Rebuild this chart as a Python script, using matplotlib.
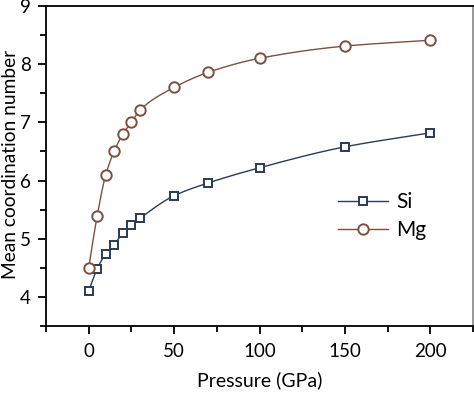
import numpy as np
import matplotlib.pyplot as plt
from matplotlib.ticker import MultipleLocator

# Data
pressure = [0, 5, 10, 15, 20, 25, 30, 50, 70, 100, 150, 200]
si_cn = [4.10, 4.49, 4.74, 4.90, 5.10, 5.23, 5.35, 5.74, 5.96, 6.22, 6.58, 6.82]
mg_cn = [4.50, 5.40, 6.10, 6.51, 6.80, 7.00, 7.21, 7.60, 7.86, 8.10, 8.31, 8.41]

si_color = '#2b3a55'
mg_color = '#7b5040'


def pchip(x, y, xs):
    """Monotone cubic curve through the points (for the connecting line only)"""
    x = np.asarray(x, float)
    y = np.asarray(y, float)
    h = np.diff(x)
    d = np.diff(y) / h
    m = np.zeros_like(y)
    for k in range(1, len(x) - 1):
        if d[k - 1] * d[k] > 0:
            w1 = 2 * h[k] + h[k - 1]
            w2 = h[k] + 2 * h[k - 1]
            m[k] = (w1 + w2) / (w1 / d[k - 1] + w2 / d[k])
    m[0] = d[0]
    m[-1] = d[-1]
    idx = np.clip(np.searchsorted(x, xs) - 1, 0, len(x) - 2)
    t = (xs - x[idx]) / h[idx]
    h00 = 2 * t**3 - 3 * t**2 + 1
    h10 = t**3 - 2 * t**2 + t
    h01 = -2 * t**3 + 3 * t**2
    h11 = t**3 - t**2
    return (h00 * y[idx] + h10 * h[idx] * m[idx]
            + h01 * y[idx + 1] + h11 * h[idx] * m[idx + 1])


plt.rcParams['font.family'] = ['Lato', 'DejaVu Sans']

fig = plt.figure(figsize=(4.74, 3.93), dpi=100)
ax = fig.add_axes([0.097, 0.170, 0.901, 0.815])

xs = np.linspace(min(pressure), max(pressure), 600)
ax.plot(xs, pchip(pressure, si_cn, xs), color=si_color, lw=1.0)
ax.plot(xs, pchip(pressure, mg_cn, xs), color=mg_color, lw=1.0)
ax.plot(pressure, si_cn, 's', ms=6, mfc='white', mec=si_color, mew=1.4)
ax.plot(pressure, mg_cn, 'o', ms=7.5, mfc='white', mec=mg_color, mew=1.4)

# legend handles
ax.plot([], [], '-s', color=si_color, ms=6, mfc='white', mec=si_color,
        mew=1.4, lw=1.0, label='Si')
ax.plot([], [], '-o', color=mg_color, ms=7.5, mfc='white', mec=mg_color,
        mew=1.4, lw=1.0, label='Mg')
ax.legend(loc='center left', bbox_to_anchor=(0.684, 0.344), frameon=False,
          fontsize=15, handlelength=2.4, handletextpad=0.4, labelspacing=0.4,
          borderpad=0, borderaxespad=0)

ax.set_xlim(-25, 225)
ax.set_ylim(3.5, 9)
ax.xaxis.set_major_locator(MultipleLocator(50))
ax.xaxis.set_minor_locator(MultipleLocator(25))
ax.yaxis.set_major_locator(MultipleLocator(1))
ax.yaxis.set_minor_locator(MultipleLocator(0.5))
ax.set_yticks([4, 5, 6, 7, 8, 9])
ax.tick_params(which='major', direction='out', length=6, width=1.3,
               labelsize=13.5, top=False, right=False)
ax.tick_params(which='minor', direction='out', length=4, width=1.3,
               top=False, right=False)
ax.tick_params(axis='x', pad=6)
ax.tick_params(axis='y', pad=5)

for s in ['left', 'bottom', 'top']:
    ax.spines[s].set_linewidth(1.3)
ax.spines['right'].set_color('#909090')
ax.spines['right'].set_linewidth(1.3)

# axis titles placed in figure pixels to match the reference
fig.text(260 / 474, 1 - 380 / 393, 'Pressure (GPa)', fontsize=14,
         ha='center', va='center')
fig.text(11 / 474, 1 - 164 / 393, 'Mean coordination number', fontsize=13.8,
         rotation=90, ha='center', va='center')

fig.savefig('out.png', dpi=100)
